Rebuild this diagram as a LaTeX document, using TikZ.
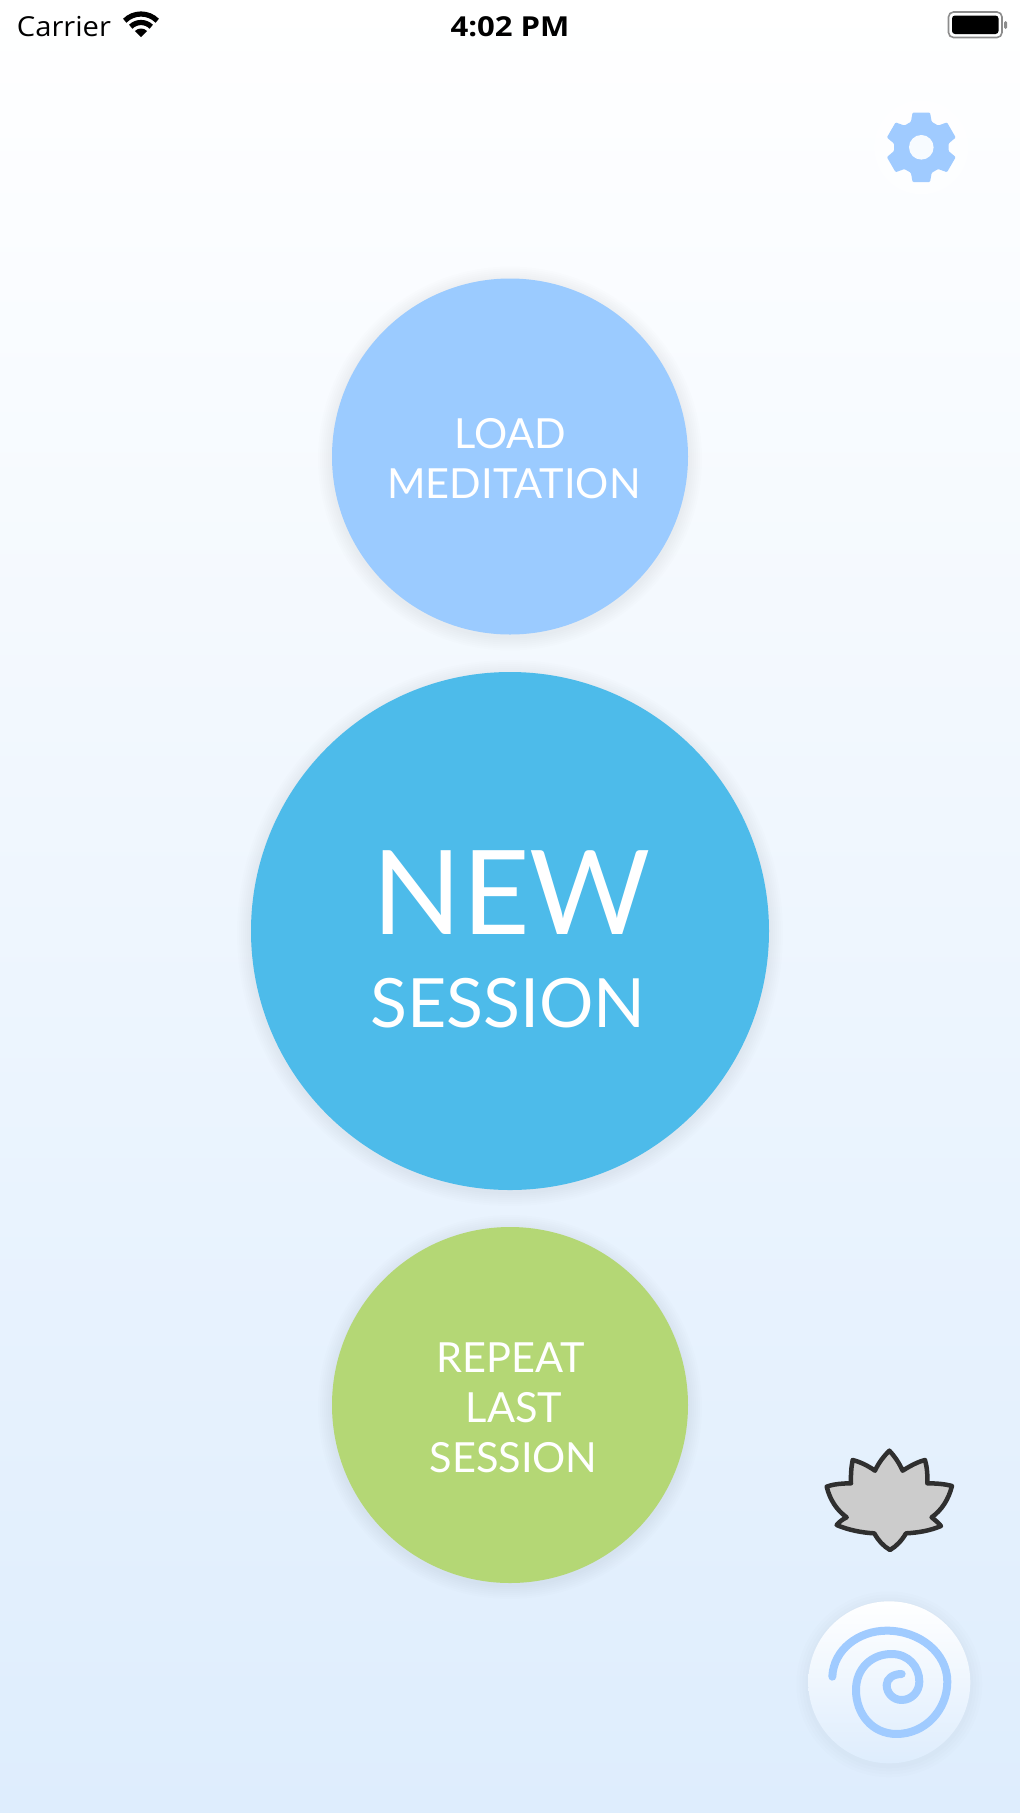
\documentclass[tikz,border=0pt]{standalone}
\usepackage{fontspec}
\usetikzlibrary{calc}
\newfontfamily\lato{Lato}
\newfontfamily\statusfont{Open Sans}
\definecolor{bgbot}{RGB}{222,237,253}
\definecolor{loadblue}{RGB}{155,203,255}
\definecolor{newblue}{RGB}{77,187,234}
\definecolor{repgreen}{RGB}{180,215,117}
\definecolor{gearblue}{RGB}{160,203,255}
\definecolor{shadowc}{RGB}{60,70,80}
\definecolor{lotusfill}{RGB}{204,204,204}
\definecolor{lotusline}{RGB}{47,47,47}
\definecolor{btnbot}{RGB}{222,237,253}
\tikzset{
  disc/.style={circle,draw=none,inner sep=0pt,minimum size=#1},
  caption/.style={anchor=base,inner sep=0pt,text=white},
  statustext/.style={anchor=base,inner sep=0pt,text=black},
}
\newcommand{\softshadow}[3]{%
  \foreach \k in {2,4,...,14}{
    \fill[shadowc,opacity=0.007] (#1,#2+2) circle[radius=#3+\k];
  }%
}
\newcommand{\lotuspath}{%
  (328,92) .. controls (345,110) and (358,130) .. (368,152)
  .. controls (390,138) and (412,126) .. (435,120)
  .. controls (441,140) and (443,165) .. (442,190)
  .. controls (470,190) and (495,192) .. (516,198)
  .. controls (505,240) and (485,270) .. (455,292)
  .. controls (465,300) and (475,308) .. (483,318)
  .. controls (450,332) and (415,338) .. (378,340)
  .. controls (365,362) and (350,378) .. (330,390)
  .. controls (310,378) and (295,362) .. (283,340)
  .. controls (245,338) and (205,330) .. (170,315)
  .. controls (178,305) and (188,298) .. (200,292)
  .. controls (170,270) and (150,240) .. (140,200)
  .. controls (160,192) and (190,190) .. (213,190)
  .. controls (212,165) and (214,140) .. (218,120)
  .. controls (242,126) and (265,138) .. (285,152)
  .. controls (295,130) and (310,110) .. (328,92) -- cycle}
\begin{document}
\begin{tikzpicture}[x=1pt,y=-1pt]
\useasboundingbox (0,0) rectangle (1020,1813);
\shade[top color=white,bottom color=bgbot,shading angle=0] (0,0) rectangle (1020,1813);

% status bar
\node[statustext,xscale=1.06,font=\statusfont\fontsize{27.5}{28}\selectfont] (carrier) at (64,36) {Carrier};
\node[statustext,xscale=1.13,font=\statusfont\bfseries\fontsize{27.5}{28}\selectfont] (clock) at (510,36) {4:02 PM};
\coordinate (wifi) at (141,37);
\fill[black] (wifi) -- ++(-45:8.5) arc[start angle=-45,end angle=-135,radius=8.5] -- cycle;
\draw[black,line width=5.2pt] (wifi) ++(-45:14.5) arc[start angle=-45,end angle=-135,radius=14.5];
\draw[black,line width=5.2pt] (wifi) ++(-45:23) arc[start angle=-45,end angle=-135,radius=23];
\draw[black!45,line width=1.6pt,rounded corners=5pt] (948.5,12) rectangle (1002,37.5);
\fill[black,rounded corners=3pt] (952,15.5) rectangle (998.5,34);
\fill[black!45,rounded corners=1.5pt] (1004,21) rectangle (1007,29);

% settings gear
\coordinate (gearc) at (921.3,147.3);
\fill[white,opacity=.55] (gearc) circle[radius=47];
\fill[gearblue,rounded corners=1pt]
  ($(gearc)+(112.2:27.5)$)
  \foreach \a in {90,30,-30,-90,-150}{
    -- ($(gearc)+({\a+14.1}:35.8)$) -- ($(gearc)+({\a-14.1}:35.8)$) -- ($(gearc)+({\a-22.2}:27.5)$) -- ($(gearc)+({\a-37.8}:27.5)$)
  }
  -- ($(gearc)+(-195.9:35.8)$) -- ($(gearc)+(-224.1:35.8)$) -- ($(gearc)+(-232.2:27.5)$) -- cycle;
\fill[white!92!gearblue] (gearc) circle[radius=12.3];

% main buttons
\softshadow{510}{456.5}{178}
\node[disc=356pt,fill=loadblue] (load) at (510,456.5) {};
\softshadow{510}{931}{259}
\node[disc=518pt,fill=newblue] (new) at (510,931) {};
\softshadow{510}{1405}{178}
\node[disc=356pt,fill=repgreen] (repeat) at (510,1405) {};

\node[caption,font=\lato\fontsize{41.5}{42}\selectfont] (t1) at (510.3,448) {LOAD};
\node[caption,font=\lato\fontsize{41.5}{42}\selectfont] (t2) at (514,498) {MEDITATION};
\node[caption,font=\lato\fontsize{117}{117}\selectfont] (t3) at (512,934.5) {NEW};
\node[caption,font=\lato\fontsize{68}{68}\selectfont] (t4) at (508,1027) {SESSION};
\node[caption,font=\lato\fontsize{41.5}{42}\selectfont] (t5) at (511,1372) {REPEAT};
\node[caption,font=\lato\fontsize{41.5}{42}\selectfont] (t6) at (514,1422.5) {LAST};
\node[caption,font=\lato\fontsize{41.5}{42}\selectfont] (t7) at (513.5,1472) {SESSION};

% lotus
\begin{scope}[shift={(780,1420)},x=0.3333pt,y=-0.3333pt]
\filldraw[fill=lotusfill,draw=lotusline,line width=4.5pt,line join=round] \lotuspath;
\end{scope}

% spiral button
\foreach \k in {3,6,9,12}{
  \fill[shadowc,opacity=0.006] (889.3,1684.3) circle[radius=81+\k];
}
\shade[top color=white,bottom color=btnbot] (889.3,1682.3) circle[radius=81];
\begin{scope}[shift={(780,1420)},x=0.3333pt,y=-0.3333pt]
\draw[gearblue,line width=8pt,line cap=round,line join=round]
  (157,770) .. controls (160,690) and (235,632) .. (320,632)
  .. controls (420,632) and (502,700) .. (502,785)
  .. controls (502,870) and (435,942) .. (350,942)
  .. controls (275,942) and (228,880) .. (228,810)
  .. controls (228,745) and (275,702) .. (335,702)
  .. controls (385,702) and (418,740) .. (418,785)
  .. controls (418,815) and (395,840) .. (365,840)
  .. controls (340,840) and (320,820) .. (320,795)
  .. controls (320,775) and (340,762) .. (365,762);
\end{scope}
\end{tikzpicture}
\end{document}
